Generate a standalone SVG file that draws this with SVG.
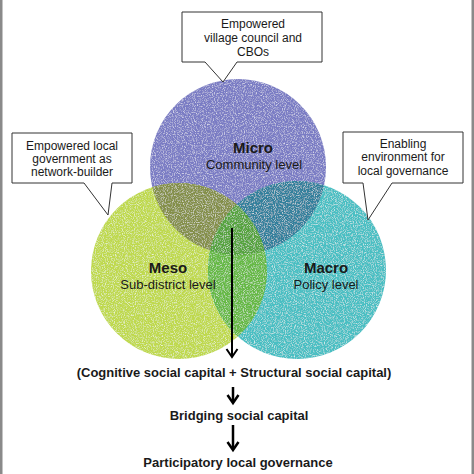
<svg xmlns="http://www.w3.org/2000/svg" width="474" height="474" viewBox="0 0 474 474">
<style>
.lbl{font-family:"Liberation Sans",Arial,sans-serif;fill:#1a1a1a;text-anchor:middle}
.cb{font-size:12px}
.bold{font-weight:bold}
.box{fill:#fff;stroke:#333;stroke-width:1}
.arr{fill:none;stroke:#000;stroke-linecap:butt;stroke-linejoin:miter}
</style>
<defs>
<clipPath id="cMicro"><circle cx="238" cy="167" r="88"/></clipPath>
<clipPath id="cMeso"><circle cx="179" cy="271" r="88"/></clipPath>
<clipPath id="cMacro"><circle cx="297" cy="270" r="89"/></clipPath>
<filter id="speckle" filterUnits="userSpaceOnUse" x="80" y="70" width="320" height="300">
<feTurbulence type="fractalNoise" baseFrequency="0.9" numOctaves="2" seed="4" result="n"/>
<feColorMatrix in="n" type="matrix" values="0 0 0 0 1  0 0 0 0 1  0 0 0 0 1  1.6 0 0 0 -0.75" result="w"/>
<feComposite in="w" in2="SourceGraphic" operator="in" result="ws"/>
<feMerge><feMergeNode in="SourceGraphic"/><feMergeNode in="ws"/></feMerge>
</filter>
</defs>
<rect x="0" y="0" width="474" height="474" fill="#fff"/>
<rect x="0" y="0" width="2.5" height="474" fill="#8a8a8a"/>
<rect x="471.5" y="0" width="2.5" height="474" fill="#8a8a8a"/>

<g filter="url(#speckle)">
<g id="micro"><circle cx="238" cy="167" r="88" fill="#7a7cc4"/></g>
<g id="meso"><circle cx="179" cy="271" r="88" fill="#bfd94e"/></g>
<g id="macro"><circle cx="297" cy="270" r="89" fill="#48bfc3"/></g>
<g id="overlaps">
<circle cx="179" cy="271" r="88" fill="#848f48" clip-path="url(#cMicro)"/>
<circle cx="297" cy="270" r="89" fill="#30809c" clip-path="url(#cMicro)"/>
<circle cx="179" cy="271" r="88" fill="#66b944" clip-path="url(#cMacro)"/>
<g clip-path="url(#cMicro)"><circle cx="179" cy="271" r="88" fill="#54a33c" clip-path="url(#cMacro)"/></g>
</g>
</g>

<g id="labels-circles">
<text class="lbl bold" x="253" y="153" font-size="15">Micro</text>
<text class="lbl" x="254" y="169" font-size="13">Community level</text>
<text class="lbl bold" x="168" y="273" font-size="15">Meso</text>
<text class="lbl" x="168" y="289" font-size="13">Sub-district level</text>
<text class="lbl bold" x="326" y="273" font-size="15">Macro</text>
<text class="lbl" x="326" y="289" font-size="13">Policy level</text>
</g>

<g id="callout-top">
<path class="box" d="M182,12 H322 V62 H237 L223,82 L205,62 H182 Z"/>
<text class="lbl cb" x="253" y="28">Empowered</text>
<text class="lbl cb" x="253" y="42">village council and</text>
<text class="lbl cb" x="253" y="56">CBOs</text>
</g>
<g id="callout-left">
<path class="box" d="M12,133 H132 V183 H112 L108,215 L84,183 H12 Z"/>
<text class="lbl cb" x="72" y="150">Empowered local</text>
<text class="lbl cb" x="72" y="163">government as</text>
<text class="lbl cb" x="72" y="176">network-builder</text>
</g>
<g id="callout-right">
<path class="box" d="M343,132 H463 V183 H392 L368,220 L363,183 H343 Z"/>
<text class="lbl cb" x="403" y="148">Enabling</text>
<text class="lbl cb" x="403" y="161">environment for</text>
<text class="lbl cb" x="403" y="175">local governance</text>
</g>

<g id="connectors">
<line class="arr" x1="232" y1="228" x2="232" y2="356" stroke-width="2"/>
<polyline class="arr" points="226.5,349 232,357 237.5,349" stroke-width="2"/>
<line class="arr" x1="233" y1="387" x2="233" y2="402" stroke-width="2.5"/>
<polyline class="arr" points="227.5,395 233,403 238.5,395" stroke-width="2.5"/>
<line class="arr" x1="233" y1="425" x2="233" y2="449" stroke-width="2.5"/>
<polyline class="arr" points="227.5,442 233,450 238.5,442" stroke-width="2.5"/>
</g>

<g id="flow-texts">
<text class="lbl bold" x="234" y="377" font-size="13">(Cognitive social capital + Structural social capital)</text>
<text class="lbl bold" x="239" y="420" font-size="13">Bridging social capital</text>
<text class="lbl bold" x="238" y="467" font-size="13">Participatory local governance</text>
</g>
</svg>
